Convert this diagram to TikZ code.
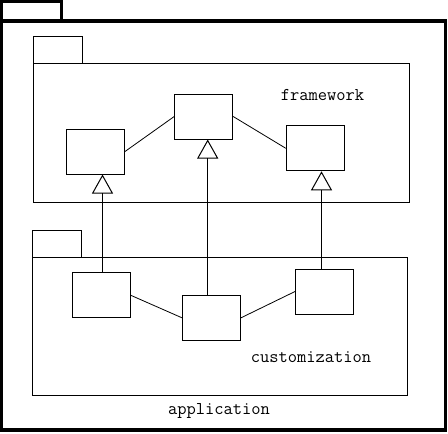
\documentclass[tikz,border=0pt]{standalone}
\usepackage{fontspec}
\usetikzlibrary{arrows.meta,positioning}

\begin{document}
\begin{tikzpicture}[
    x=0.75pt, y=-0.75pt,
    classbox/.style={rectangle, draw, line width=0.75pt, minimum width=43.5pt, minimum height=33.75pt, inner sep=0pt},
    pkgbody/.style={rectangle, draw, line width=0.75pt, inner sep=0pt, outer sep=0pt},
    pkgtab/.style={rectangle, draw, line width=0.75pt, inner sep=0pt, outer sep=0pt, minimum width=36.75pt, minimum height=20.25pt, anchor=south west},
    pkglabel/.style={font=\ttfamily\fontsize{13.5}{16}\selectfont, inner sep=0pt},
    gen/.style={-{Triangle[open, length=14.25pt, width=15.75pt]}, line width=0.75pt},
    assoc/.style={line width=0.6pt}
]
    \useasboundingbox (0,0) rectangle (448,433);

    % packages
    \node[pkgbody, line width=2.6pt, minimum width=333pt, minimum height=306.75pt] (app) at (223.5,225.5) {};
    \node[pkgtab, line width=2.25pt, minimum width=45pt, minimum height=14.6pt] (apptab) at (app.north west) {};
    \node[pkgbody, minimum width=282pt, minimum height=104.25pt] (fw) at (221,132.5) {};
    \node[pkgtab] (fwtab) at (fw.north west) {};
    \node[pkgbody, minimum width=281.5pt, minimum height=103.5pt] (cust) at (219.7,326.3) {};
    \node[pkgtab] (custtab) at (cust.north west) {};

    \node[pkglabel] (fwlabel) at (322.5,95) {framework};
    \node[pkglabel] (custlabel) at (311,356.7) {customization};
    \node[pkglabel] (applabel) at (219,410.7) {application};

    % classes
    \node[classbox] (fa) at (95.5,151.5) {};
    \node[classbox] (fb) at (203.7,116.5) {};
    \node[classbox] (fc) at (315.3,148.3) {};
    \node[classbox] (ca) at (101.3,295.3) {};
    \node[classbox] (cb) at (211.5,317.8) {};
    \node[classbox] (cc) at (324.5,291.5) {};

    \draw[assoc] (fa.east) -- (fb.west);
    \draw[assoc] (fb.east) -- (fc.west);
    \draw[assoc] (ca.east) -- (cb.west);
    \draw[assoc] (cb.east) -- (cc.west);

    \draw[gen] ([xshift=0.9pt]ca.north) -- ([xshift=0.9pt]ca.north |- fa.south);
    \draw[gen] ([xshift=-2.85pt]cb.north) -- ([xshift=-2.85pt]cb.north |- fb.south);
    \draw[gen] ([xshift=-2.25pt]cc.north) -- ([xshift=-2.25pt]cc.north |- fc.south);
\end{tikzpicture}
\end{document}
